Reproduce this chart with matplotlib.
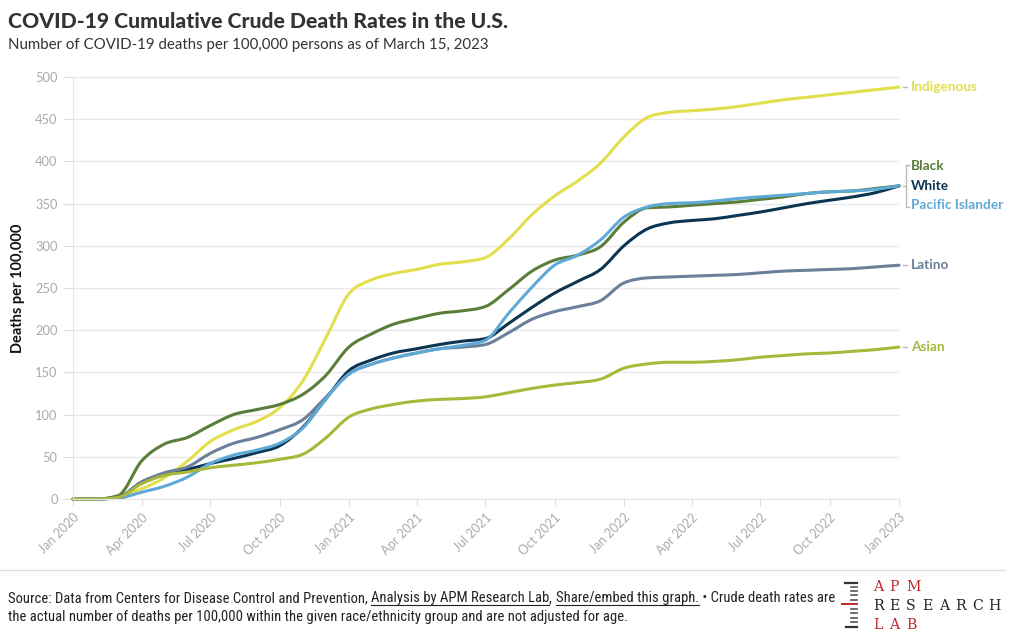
import matplotlib
matplotlib.use("Agg")
import matplotlib.pyplot as plt
import matplotlib.dates as mdates
from matplotlib.path import Path
from matplotlib.patches import PathPatch
from matplotlib.lines import Line2D
from matplotlib.transforms import IdentityTransform
import numpy as np
import pandas as pd

plt.rcParams['font.family'] = ['Lato', 'DejaVu Sans']

# monthly values, Jan 2020 .. Jan 2023
months = pd.date_range("2020-01-01", "2023-01-01", freq="MS")
indigenous = [0, 0, 3, 12, 25, 45, 68, 82, 92, 108, 140, 190,
              243, 260, 267, 272, 278, 281, 286, 308, 337, 359, 377, 398,
              429, 452, 458, 460, 462, 465, 469, 473, 476, 479, 482, 485,
              488]
black = [0, 0, 4, 45, 65, 73, 87, 100, 106, 112, 124, 146,
         180, 196, 207, 214, 220, 223, 228, 248, 270, 283, 289, 299,
         328, 345, 346, 348, 350, 352, 355, 358, 362, 364, 365, 368,
         371]
white = [0, 0, 2, 20, 30, 35, 42, 48, 55, 63, 85, 118,
         152, 165, 173, 178, 183, 187, 190, 208, 227, 244, 258, 272,
         300, 320, 327, 330, 332, 336, 340, 345, 350, 354, 358, 363,
         371]
pacific = [0, 0, 1, 8, 15, 26, 42, 52, 58, 66, 84, 118,
           148, 160, 167, 173, 178, 182, 188, 220, 251, 277, 289, 307,
           334, 346, 350, 351, 353, 356, 358, 360, 362, 364, 365, 367,
           371]
latino = [0, 0, 2, 20, 31, 38, 54, 66, 73, 82, 94, 120,
          148, 160, 167, 173, 178, 180, 183, 197, 213, 222, 228, 235,
          256, 262, 263, 264, 265, 266, 268, 270, 271, 272, 273, 275,
          277]
asian = [0, 0, 2, 18, 28, 32, 37, 40, 43, 47, 53, 72,
         97, 107, 112, 116, 118, 119, 121, 126, 131, 135, 138, 142,
         155, 160, 162, 162, 163, 165, 168, 170, 172, 173, 175, 177,
         180]

# draw order bottom -> top
series = [
    ("Indigenous", indigenous, "#e2df4d", 0),
    ("Black", black, "#5a7e39", 23),
    ("White", white, "#0c3552", 0),
    ("Latino", latino, "#6b7f9a", 0),
    ("Pacific Islander", pacific, "#5ea9d6", -23),
    ("Asian", asian, "#a8b83b", 0),
]


def monotone_path(x, y):
    # monotone cubic curve through the points, as bezier segments
    x = np.asarray(x, float)
    y = np.asarray(y, float)
    h = np.diff(x)
    s = np.diff(y) / h
    m = np.zeros(len(x))
    m[0] = s[0]
    m[-1] = s[-1]
    for i in range(1, len(x) - 1):
        p = (s[i - 1] * h[i] + s[i] * h[i - 1]) / (h[i - 1] + h[i])
        m[i] = (np.sign(s[i - 1]) + np.sign(s[i])) * min(abs(s[i - 1]), abs(s[i]), 0.5 * abs(p))
    verts = [(x[0], y[0])]
    codes = [Path.MOVETO]
    for i in range(len(x) - 1):
        d = h[i] / 3
        verts += [(x[i] + d, y[i] + m[i] * d), (x[i + 1] - d, y[i + 1] - m[i + 1] * d), (x[i + 1], y[i + 1])]
        codes += [Path.CURVE4] * 3
    return Path(verts, codes)


W, H = 1023, 640
fig = plt.figure(figsize=(W / 100, H / 100), dpi=100)
ax = fig.add_axes([73 / W, 1 - 499 / H, 826 / W, 422 / H])

xnum = mdates.date2num(months)
for name, vals, col, off in series:
    patch = PathPatch(monotone_path(xnum, vals), facecolor="none", edgecolor=col,
                      lw=2.2, capstyle="round", joinstyle="round", clip_on=False)
    ax.add_patch(patch)

ax.set_xlim(xnum[0], xnum[-1])
ax.set_ylim(0, 500)
ax.set_yticks(np.arange(0, 501, 50))
tick_dates = pd.date_range("2020-01-01", "2023-01-01", freq="QS")
ax.set_xticks(mdates.date2num(tick_dates))
ax.set_xticklabels([d.strftime("%b %Y") for d in tick_dates], rotation=45,
                   ha="right", va="top", rotation_mode="anchor")
ax.grid(axis="y", color="#e8e8e8", lw=1)
ax.set_axisbelow(True)
for sp in ["top", "right"]:
    ax.spines[sp].set_visible(False)
ax.spines["left"].set_color("#e6e6e6")
ax.spines["bottom"].set_color("#e6e6e6")
ax.tick_params(axis="y", length=7, color="#dddddd", labelcolor="#aaaaaa",
               labelsize=9.3, pad=4)
ax.tick_params(axis="x", length=5, color="#dddddd", labelcolor="#aaaaaa",
               labelsize=9, pad=4)
ax.set_ylabel("Deaths per 100,000", fontsize=10.5, fontweight="bold",
              color="#111111")
ax.yaxis.set_label_coords(-48 / 826, 0.5)

# end labels
for name, vals, col, off in series:
    ax.annotate(name, xy=(xnum[-1], vals[-1] + off), xytext=(12, 0),
                textcoords="offset pixels", va="center", ha="left",
                fontsize=9.8, fontweight="bold", color=col, annotation_clip=False)

fig.canvas.draw()
to_px = ax.transData.transform


def px_line(xs, ys, color="#bbbbbb", lw=1):
    fig.add_artist(Line2D(xs, ys, transform=IdentityTransform(), color=color, lw=lw))


xe = to_px((xnum[-1], 0))[0]
for name, vals, col, off in series:
    if off == 0 and name != "White":
        yy = to_px((xnum[-1], vals[-1]))[1]
        px_line([xe + 4, xe + 8], [yy, yy])
yb_top = to_px((xnum[-1], black[-1] + 25))[1]
yb_bot = to_px((xnum[-1], pacific[-1] - 25))[1]
yb_mid = to_px((xnum[-1], white[-1]))[1]
px_line([xe + 10, xe + 7, xe + 7, xe + 10], [yb_top, yb_top, yb_bot, yb_bot])
px_line([xe + 4, xe + 7], [yb_mid, yb_mid])

# titles
fig.text(8 / W, 1 - 22 / H, "COVID-19 Cumulative Crude Death Rates in the U.S.",
         fontsize=15.2, fontweight=900, color="#333333", va="center")
fig.text(8 / W, 1 - 45 / H, "Number of COVID-19 deaths per 100,000 persons as of March 15, 2023",
         fontsize=10.8, color="#333333", va="center")

# footer
fig.add_artist(Line2D([0, 1005 / W], [1 - 570 / H, 1 - 570 / H], color="#dddddd", lw=1))
renderer = fig.canvas.get_renderer()
foot_kw = dict(fontsize=10.5, color="#222222", va="center",
               family=["Roboto Condensed", "Lato", "DejaVu Sans"])
parts = [("Source: Data from Centers for Disease Control and Prevention, ", False),
         ("Analysis by APM Research Lab", True), (", ", False),
         ("Share/embed this graph.", True),
         (" \u2022 Crude death rates are", False)]
xcur = 8
ybase = 598
for txt, under in parts:
    t = fig.text(xcur / W, 1 - ybase / H, txt, **foot_kw)
    bar = fig.text(0, 0, "|", **foot_kw)
    wbar = bar.get_window_extent(renderer).width
    bar.set_text(txt + "|")
    wtxt = bar.get_window_extent(renderer).width - wbar
    bar.remove()
    if under:
        wu = t.get_window_extent(renderer).width
        px_line([xcur, xcur + wu], [H - ybase - 7, H - ybase - 7], color="#222222", lw=0.8)
    xcur += wtxt
fig.text(8 / W, 1 - 617 / H,
         "the actual number of deaths per 100,000 within the given race/ethnicity group and are not adjusted for age.",
         **foot_kw)

# logo
red = "#c1272d"
for row, (word, col) in enumerate([("APM", red), ("RESEARCH", "#222222"), ("LAB", red)]):
    for i, ch in enumerate(word):
        fig.text((873 + i * 16.5) / W, 1 - (587 + row * 19) / H, ch, fontsize=10.2,
                 family="DejaVu Serif", color=col, va="center", ha="left")
ticks = [(845, 583, "#333333", 1.6), (851, 587, "#555555", 1.2), (851, 591, "#555555", 1.2),
         (851, 595, "#555555", 1.2), (851, 600, "#555555", 1.2), (842, 604, red, 1.4),
         (851, 609, "#555555", 1.2), (851, 613, "#555555", 1.2), (851, 618, "#555555", 1.2),
         (851, 622, "#555555", 1.2), (846, 627, "#333333", 1.6)]
for x0, yy, col, lw in ticks:
    px_line([x0, 857], [H - yy, H - yy], color=col, lw=lw)

fig.savefig("out.png", dpi=100)
